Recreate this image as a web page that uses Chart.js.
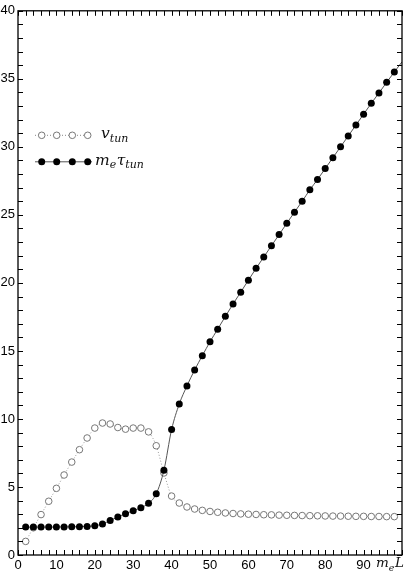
<!DOCTYPE html>
<html>
<head>
<meta charset="utf-8">
<script src="https://cdn.jsdelivr.net/npm/chart.js@4.4.0/dist/chart.umd.min.js"></script>
<style>
  html, body { margin: 0; padding: 0; background: #fff; }
  #wrap { width: 420px; height: 573px; position: relative; }
</style>
</head>
<body>
<div id="wrap"><canvas id="c"></canvas></div>
<script>
// x positions (m_e L)
const mL = [2,4,6,8,10,12,14,16,18,20,22,24,26,28,30,32,34,36,38,40,42,44,46,48,50,
            52,54,56,58,60,62,64,66,68,70,72,74,76,78,80,82,84,86,88,90,92,94,96,98];
// v_tun series
const vTun = [1.0,2.0,2.97,3.95,4.9,5.88,6.83,7.74,8.6,9.33,9.7,9.63,9.37,9.25,9.33,
              9.33,9.05,8.03,6.03,4.33,3.82,3.53,3.38,3.28,3.2,3.14,3.09,3.05,3.02,3.0,
              2.98,2.96,2.95,2.93,2.92,2.91,2.9,2.89,2.88,2.87,2.86,2.86,2.85,2.84,2.84,
              2.83,2.83,2.82,2.82];
// m_e tau_tun series
const meTau = [2.05,2.05,2.05,2.05,2.06,2.06,2.07,2.08,2.1,2.15,2.28,2.53,2.8,3.04,3.26,
               3.48,3.8,4.5,6.23,9.22,11.1,12.43,13.6,14.65,15.67,16.6,17.54,18.45,19.32,20.2,
               21.07,21.9,22.73,23.55,24.38,25.2,26.0,26.84,27.6,28.4,29.2,30.0,30.8,31.6,32.4,
               33.2,33.96,34.74,35.5];
// curve continues to the frame edge (no marker)
const meTauTailX = 100;
const meTauTailY = 36.25;

const xTicks = [0,10,20,30,40,50,60,70,80,90];
const yTicks = [0,5,10,15,20,25,30,35,40];

const vData = mL.map((x,i)=>({x:x, y:vTun[i]}));
const tData = mL.map((x,i)=>({x:x, y:meTau[i]})).concat([{x:meTauTailX, y:meTauTailY}]);

const TICK_FONT = {family: "'Liberation Sans', Arial, sans-serif", size: 13};

function drawMath(ctx, x, y, parts, big, small) {
  let cx = x;
  parts.forEach(p => {
    ctx.font = "italic " + (p[1] ? small : big) + "px 'DejaVu Serif', serif";
    ctx.fillText(p[0], cx, p[1] ? y + 3.5 : y);
    cx += ctx.measureText(p[0]).width + (p[1] ? 0.5 : 0);
  });
}

const decorPlugin = {
  id: 'decor',
  afterDraw(chart) {
    const ctx = chart.ctx;
    const a = chart.chartArea;
    const xs = chart.scales.x, ys = chart.scales.y;
    ctx.save();
    ctx.strokeStyle = '#000';
    ctx.lineWidth = 1.3;
    ctx.strokeRect(a.left, a.top, a.right - a.left, a.bottom - a.top);
    ctx.lineWidth = 1;
    ctx.beginPath();
    for (let v = xs.min; v <= xs.max; v += 2) {
      const px = Math.round(xs.getPixelForValue(v)) + 0.5;
      ctx.moveTo(px, a.bottom); ctx.lineTo(px, a.bottom - 5);
      ctx.moveTo(px, a.top); ctx.lineTo(px, a.top + 5);
    }
    for (let v = ys.min; v <= ys.max; v += 1) {
      const py = Math.round(ys.getPixelForValue(v)) + 0.5;
      ctx.moveTo(a.left, py); ctx.lineTo(a.left + 5, py);
      ctx.moveTo(a.right, py); ctx.lineTo(a.right - 5, py);
    }
    ctx.stroke();

    // legend
    const lx0 = a.left + 17, lx1 = a.left + 74;
    const mk = [a.left + 23.7, a.left + 38.7, a.left + 54.3, a.left + 69.7];
    const y1 = a.top + 124.5, y2 = a.top + 151;
    // v_tun
    ctx.strokeStyle = '#888'; ctx.lineWidth = 1; ctx.setLineDash([1,2]);
    ctx.beginPath(); ctx.moveTo(lx0, y1); ctx.lineTo(lx1, y1); ctx.stroke();
    ctx.setLineDash([]);
    mk.forEach(m => { ctx.beginPath(); ctx.arc(m, y1, 3.3, 0, Math.PI*2);
      ctx.fillStyle = '#fff'; ctx.fill(); ctx.strokeStyle = '#777'; ctx.stroke(); });
    // m_e tau
    ctx.strokeStyle = '#555'; ctx.lineWidth = 1;
    ctx.beginPath(); ctx.moveTo(lx0, y2); ctx.lineTo(lx1, y2); ctx.stroke();
    mk.forEach(m => { ctx.beginPath(); ctx.arc(m, y2, 3.5, 0, Math.PI*2);
      ctx.fillStyle = '#000'; ctx.fill(); });
    ctx.fillStyle = '#111';
    ctx.textBaseline = 'alphabetic'; ctx.textAlign = 'left';
    drawMath(ctx, a.left + 83, y1 + 3, [['v',false],['tun',true]], 15.5, 11);
    drawMath(ctx, a.left + 77, y2 + 3, [['m',false],['e',true],['\u03C4',false],['tun',true]], 15.5, 11);
    // axis label at the right end of the x axis
    drawMath(ctx, a.right - 26, a.bottom + 12, [['m',false],['e',true],['L',false]], 13.5, 9.5);
    ctx.restore();
  }
};

new Chart(document.getElementById('c'), {
  type: 'line',
  data: {
    datasets: [
      {
        label: 'm_e tau_tun',
        data: tData,
        borderColor: '#555',
        borderWidth: 1,
        backgroundColor: '#000',
        pointBackgroundColor: '#000',
        pointBorderColor: '#000',
        pointBorderWidth: 0,
        pointRadius: ctx => (ctx.raw && ctx.raw.x === meTauTailX) ? 0 : 3.5,
        cubicInterpolationMode: 'monotone',
        fill: false
      },
      {
        label: 'v_tun',
        data: vData,
        borderColor: '#999',
        borderWidth: 1,
        borderDash: [1,2],
        pointBackgroundColor: '#fff',
        pointBorderColor: '#777',
        pointBorderWidth: 1,
        pointRadius: 3.3,
        cubicInterpolationMode: 'monotone',
        fill: false
      }
    ]
  },
  options: {
    responsive: true,
    maintainAspectRatio: false,
    animation: false,
    devicePixelRatio: 1,
    layout: { padding: { top: 8, right: 18, left: 0, bottom: 0 } },
    plugins: { legend: { display: false }, tooltip: { enabled: false } },
    elements: { point: { hoverRadius: 3.5 } },
    scales: {
      x: {
        type: 'linear',
        min: 0, max: 100,
        afterFit: s => { s.height = 18; },
        afterBuildTicks: s => { s.ticks = xTicks.map(v => ({value: v})); },
        grid: { display: false, drawTicks: false },
        border: { display: false },
        ticks: { color: '#000', font: TICK_FONT, padding: 3, maxRotation: 0, autoSkip: false }
      },
      y: {
        type: 'linear',
        min: 0, max: 40,
        afterFit: s => { s.width = 18; },
        afterBuildTicks: s => { s.ticks = yTicks.map(v => ({value: v})); },
        grid: { display: false, drawTicks: false },
        border: { display: false },
        ticks: { color: '#000', font: TICK_FONT, padding: 3, autoSkip: false }
      }
    }
  },
  plugins: [decorPlugin]
});
</script>
</body>
</html>
